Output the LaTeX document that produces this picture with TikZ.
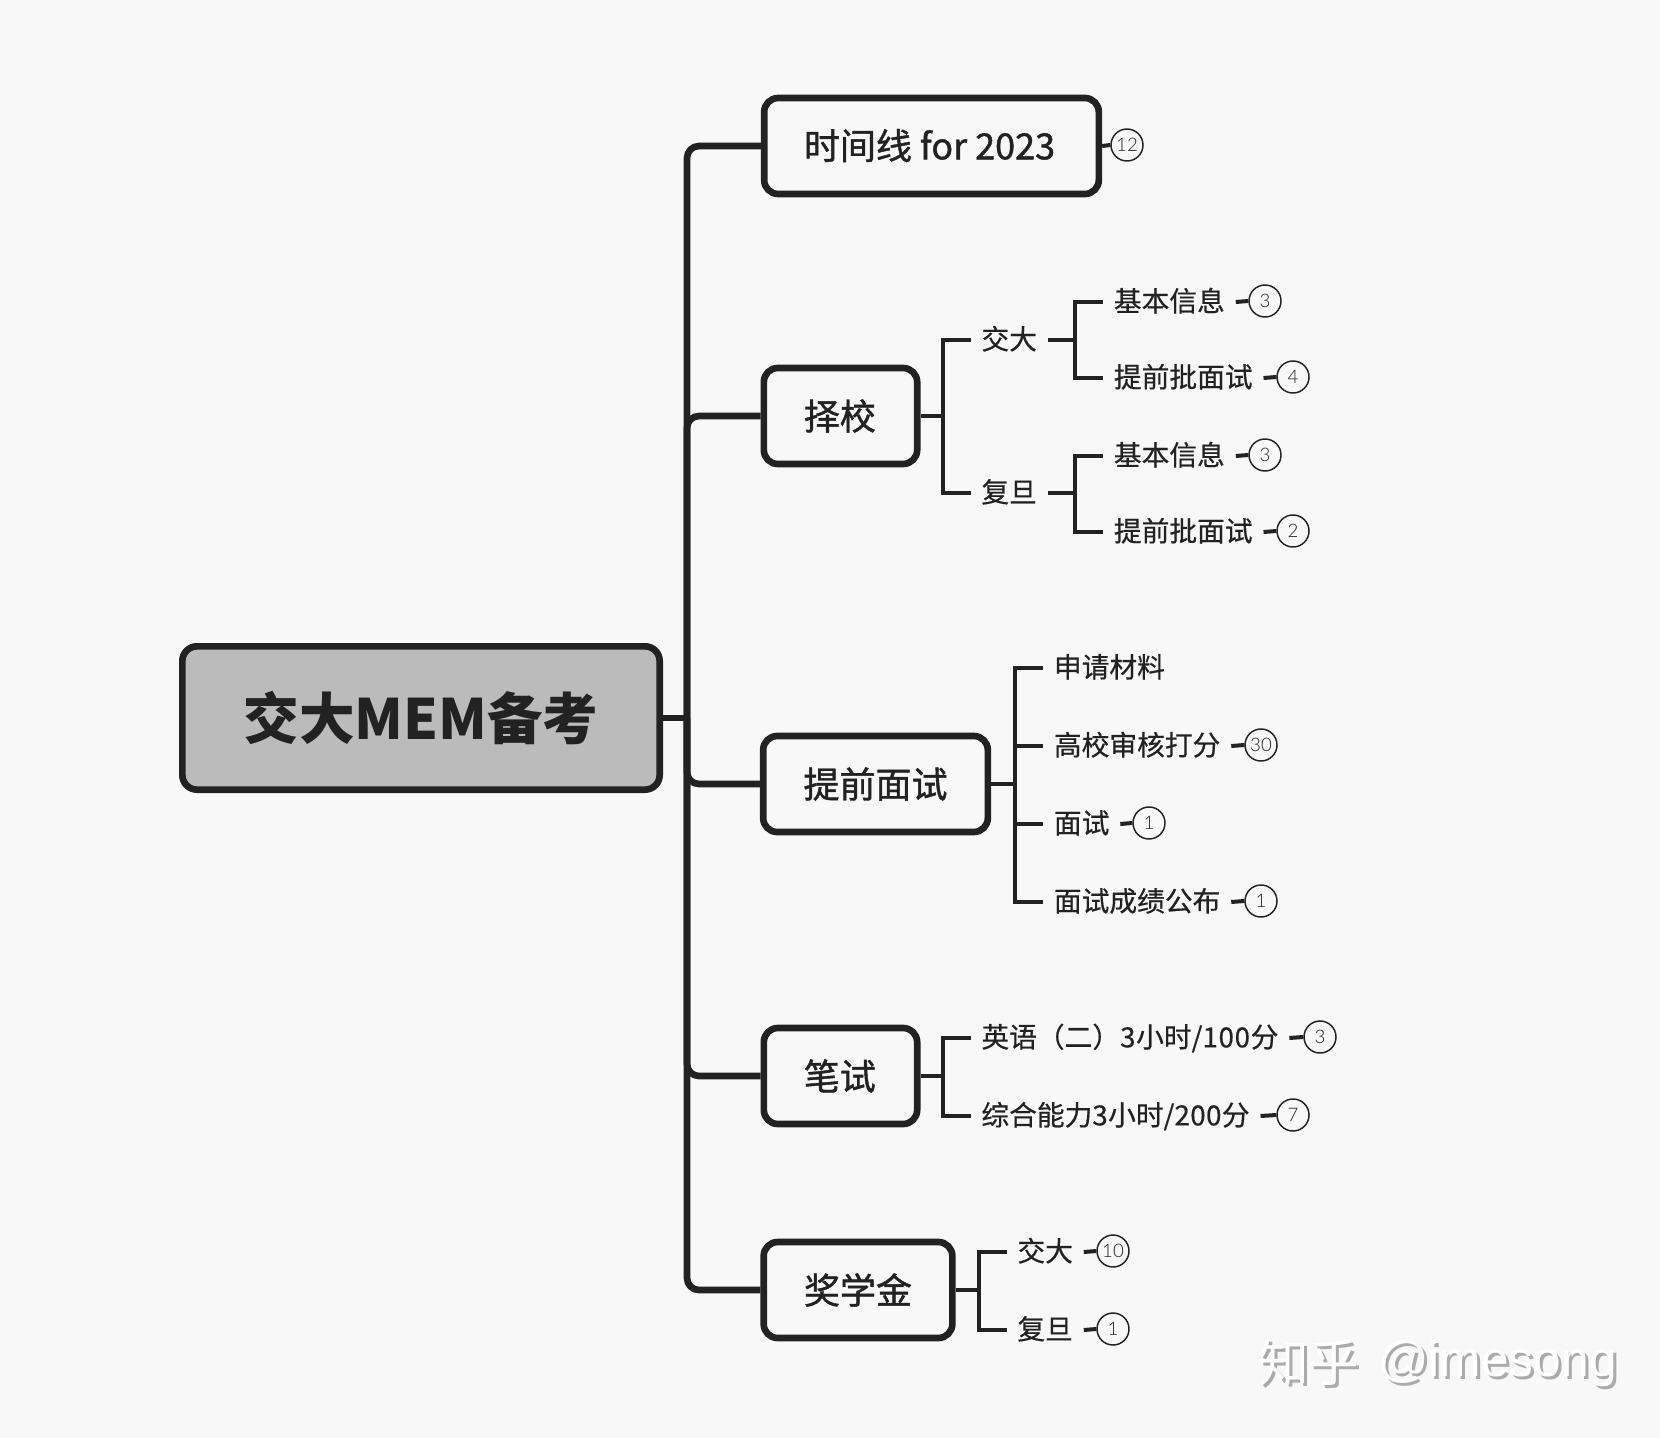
\documentclass[tikz,border=0pt]{standalone}
\usepackage{fontspec}
\setmainfont{Noto Sans CJK SC}
\newfontfamily\cjkmed[FakeBold=1.2]{Noto Sans CJK SC}
\newfontfamily\cjkleaf[FakeBold=0.5]{Noto Sans CJK SC}
\newfontfamily\digits{Lato Light}
\newfontfamily\markfont{Liberation Sans}
\definecolor{ink}{HTML}{222222}
\definecolor{paper}{HTML}{F8F8F8}
\definecolor{rootfill}{HTML}{BBBBBB}
\definecolor{markgray}{HTML}{ABABAB}
\tikzset{
  x=0.75pt,y=-0.75pt,
  rootbox/.style={draw=ink,fill=rootfill,line width=5pt,rounded corners=11pt,text=ink,inner sep=0pt,
    minimum width=358pt,minimum height=107.5pt,font=\fontsize{41.7pt}{41.7pt}\selectfont\bfseries},
  mainbox/.style={draw=ink,fill=paper,line width=5pt,rounded corners=10.5pt,text=ink,inner sep=0pt,
    minimum height=72pt,font=\cjkmed\fontsize{27pt}{27pt}\selectfont},
  leaf/.style={anchor=west,text=ink,inner ysep=0pt,inner xsep=8pt,text height=17pt,text depth=3pt,
    font=\cjkleaf\fontsize{20.8pt}{20.8pt}\selectfont},
  badge/.style={circle,draw=ink,line width=1.1pt,fill=paper,minimum size=24pt,inner sep=0pt,text=ink,
    font=\digits\fontsize{14pt}{14pt}\selectfont},
  trunk/.style={draw=ink,line width=5pt,rounded corners=9pt},
  branch/.style={draw=ink,line width=3pt},
  thinstub/.style={draw=ink,line width=3pt},
  markwhite/.style={text=white,inner sep=0pt,anchor=west},
  markgrey/.style={text=markgray,inner sep=0pt,anchor=west}
}
\begin{document}
\begin{tikzpicture}
\useasboundingbox[fill=paper] (0,0) rectangle (1660,1438);

% main boxes
\node[rootbox] (root) at (421,718) {交大MEM备考};
\node[mainbox,minimum width=251pt] (b1) at (931.5,146) {\raisebox{2.8pt}{时间线 for 2023}\kern3pt};
\node[mainbox,minimum width=115pt] (b2) at (840.5,416) {\kern1pt\raisebox{.4pt}{择校}\kern2pt};
\node[mainbox,minimum width=168.5pt] (b3) at (875.5,784) {\raisebox{.6pt}{提前面试}};
\node[mainbox,minimum width=115pt] (b4) at (840.5,1076) {\kern1pt\raisebox{.4pt}{笔试}\kern2pt};
\node[mainbox,minimum width=141.5pt] (b5) at (858,1290) {\raisebox{.4pt}{奖学金}};

% trunk
\coordinate (hub) at (687,718);
\draw[thinstub,line width=4.5pt] (root.east) -- (hub);
\draw[trunk] (hub) |- (b1.west);
\draw[trunk] (hub) |- (b2.west);
\draw[trunk] (hub) |- (b3.west);
\draw[trunk] (hub) |- (b4.west);
\draw[trunk] (hub) |- (b5.west);

% box 1 badge
\node[badge] (c1) at (1127,145) {12};
\draw[thinstub] (b1.east) -- (c1.west);

% box 2
\coordinate (j2) at (942.5,416);
\node[leaf] (jd) at (970.5,340) {交大};
\node[leaf] (fd) at (970.5,493) {复旦};
\draw[branch] (b2.east) -- (j2);
\draw[branch] (jd.west) -| (j2) |- (fd.west);

\coordinate (j21) at (1075,340);
\node[leaf] (jd1) at (1103,302) {基本信息};
\node[leaf] (jd2) at (1103,378) {提前批面试};
\draw[branch] (jd.east) -- (j21);
\draw[branch] (jd1.west) -| (j21) |- (jd2.west);
\node[badge] (cjd1) at (1265,301) {3};
\node[badge] (cjd2) at (1293,377) {4};
\draw[thinstub] (jd1.east) -- (cjd1.west);
\draw[thinstub] (jd2.east) -- (cjd2.west);

\coordinate (j22) at (1075,493);
\node[leaf] (fd1) at (1103,456) {基本信息};
\node[leaf] (fd2) at (1103,532) {提前批面试};
\draw[branch] (fd.east) -- (j22);
\draw[branch] (fd1.west) -| (j22) |- (fd2.west);
\node[badge] (cfd1) at (1265,455) {3};
\node[badge] (cfd2) at (1293,531) {2};
\draw[thinstub] (fd1.east) -- (cfd1.west);
\draw[thinstub] (fd2.east) -- (cfd2.west);

% box 3
\coordinate (j3) at (1014.5,784);
\node[leaf] (m1) at (1043,668) {申请材料};
\node[leaf] (m2) at (1043,746) {高校审核打分};
\node[leaf] (m3) at (1043,824) {面试};
\node[leaf] (m4) at (1043,902) {面试成绩公布};
\draw[branch] (b3.east) -- (j3);
\draw[branch] (m1.west) -| (j3) |- (m4.west);
\draw[branch] (m2.west) -| (j3);
\draw[branch] (m3.west) -| (j3);
\node[badge] (cm2) at (1261,745) {30};
\node[badge] (cm3) at (1149,823) {1};
\node[badge] (cm4) at (1261,901) {1};
\draw[thinstub] (m2.east) -- (cm2.west);
\draw[thinstub] (m3.east) -- (cm3.west);
\draw[thinstub] (m4.east) -- (cm4.west);

% box 4
\coordinate (j4) at (942.5,1076);
\node[leaf] (w1) at (970.5,1038) {英语（二）3\kern.5pt 小时/1\kern.5pt 0\kern.5pt 0\kern.5pt 分};
\node[leaf] (w2) at (970.5,1116) {综合能力3\kern.3pt 小时/2\kern.3pt 0\kern.3pt 0\kern.3pt 分};
\draw[branch] (b4.east) -- (j4);
\draw[branch] (w1.west) -| (j4) |- (w2.west);
\node[badge] (cw1) at (1320,1037) {3};
\node[badge] (cw2) at (1293,1115) {7};
\draw[thinstub] (w1.east) -- (cw1.west);
\draw[thinstub] (w2.east) -- (cw2.west);

% box 5
\coordinate (j5) at (978.5,1290);
\node[leaf] (s1) at (1006.5,1252) {交大};
\node[leaf] (s2) at (1006.5,1330) {复旦};
\draw[branch] (b5.east) -- (j5);
\draw[branch] (s1.west) -| (j5) |- (s2.west);
\node[badge] (cs1) at (1113,1251) {10};
\node[badge] (cs2) at (1113,1329) {1};
\draw[thinstub] (s1.east) -- (cs1.west);
\draw[thinstub] (s2.east) -- (cs2.west);

% watermark
\node[markgrey,font=\fontsize{38pt}{38pt}\selectfont] (wm1) at (1261,1365) {知乎};
\node[markgrey,font=\markfont\fontsize{37.3pt}{37.3pt}\selectfont] (wm2) at (1381,1367) {@imesong};
\node[markwhite,font=\fontsize{38pt}{38pt}\selectfont] (wm3) at (1258,1362) {知乎};
\node[markwhite,font=\markfont\fontsize{37.3pt}{37.3pt}\selectfont] (wm4) at (1378,1364) {@imesong};
\end{tikzpicture}
\end{document}
